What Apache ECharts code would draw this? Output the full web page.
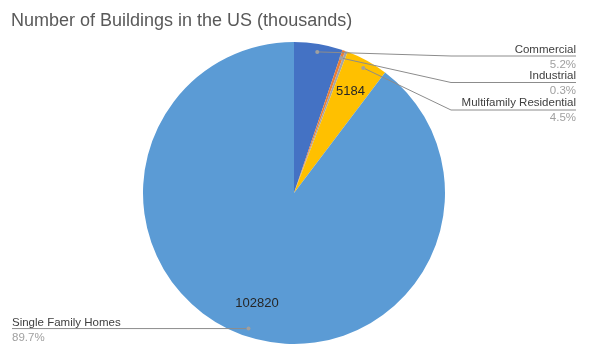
<!DOCTYPE html>
<html>
<head>
<meta charset="utf-8">
<script src="https://cdn.jsdelivr.net/npm/echarts@6/dist/echarts.min.js"></script>
<style>
html,body{margin:0;padding:0;background:#fff;}
#main{width:592px;height:358px;}
</style>
</head>
<body>
<div id="main"></div>
<script>
// ---- data ----
const categories = ['Commercial', 'Industrial', 'Other', 'Multifamily Residential', 'Single Family Homes'];
const values = [5960, 350, 320, 5184, 102820];
const colors = ['#4472C4', '#ED7D31', '#A5A5A5', '#FFC000', '#5B9BD5'];
const showCategoryLabel = [true, true, false, true, true];
const showValueLabel = [false, false, false, true, true];

// ---- layout ----
const CX = 294, CY = 193, R = 151, DOT_R = 143;
const FONT = 'Liberation Sans';
// label anchor settings per category (layout only)
const labelPlace = [
  { x: 576, top: 42, align: 'right', lineY: 56, elbowX: 451, endX: 576 },
  { x: 576, top: 68, align: 'right', lineY: 82.5, elbowX: 451, endX: 576 },
  null,
  { x: 576, top: 95.5, align: 'right', lineY: 110, elbowX: 451, endX: 576 },
  { x: 12, top: 315, align: 'left', lineY: null, elbowX: null, endX: 12 }
];

const chart = echarts.init(document.getElementById('main'), null, { renderer: 'canvas' });

function dotPos(i) {
  const data = chart.getModel().getSeriesByIndex(0).getData();
  const l = data.getItemLayout(i);
  const mid = (l.startAngle + l.endAngle) / 2;
  return [l.cx + DOT_R * Math.cos(mid), l.cy + DOT_R * Math.sin(mid)];
}

const outerData = categories.map((name, i) => ({
  name: name,
  value: values[i],
  itemStyle: { color: colors[i] },
  label: { show: showCategoryLabel[i] }
}));

const innerData = categories.map((name, i) => ({
  name: name,
  value: values[i],
  label: { show: showValueLabel[i] }
}));

const option = {
  animation: false,
  title: {
    text: 'Number of Buildings in the US (thousands)',
    left: 6,
    top: 7,
    textStyle: { fontFamily: FONT, fontSize: 18, fontWeight: 'normal', color: '#595959' }
  },
  series: [
    {
      type: 'pie',
      center: [CX, CY],
      radius: R,
      startAngle: 90,
      clockwise: true,
      avoidLabelOverlap: false,
      percentPrecision: 1,
      itemStyle: { borderWidth: 0 },
      emphasis: { disabled: true },
      label: {
        position: 'outside',
        formatter: '{n|{b}}\n{p|{d}%}',
        rich: {
          n: { fontFamily: FONT, fontSize: 11.5, color: '#404040', lineHeight: 15 },
          p: { fontFamily: FONT, fontSize: 11.5, color: '#a0a0a0', lineHeight: 15 }
        }
      },
      labelLine: { show: false },
      labelLayout: function (params) {
        const p = labelPlace[params.dataIndex];
        if (!p) return {};
        return { x: p.x, y: p.top, align: p.align, verticalAlign: 'top' };
      },
      data: outerData
    },
    {
      type: 'pie',
      center: [CX, CY],
      radius: [76, R],
      startAngle: 90,
      clockwise: true,
      silent: true,
      z: 5,
      itemStyle: { color: 'rgba(0,0,0,0)', borderWidth: 0 },
      emphasis: { disabled: true },
      label: {
        position: 'inside',
        formatter: '{c}',
        fontFamily: FONT,
        fontSize: 13,
        color: '#262626'
      },
      labelLine: { show: false },
      data: innerData
    }
  ]
};

chart.setOption(option);

// leader lines and dots, anchored on the library's own sector layout
const guides = [];
categories.forEach((c, i) => {
  if (!showCategoryLabel[i]) return;
  const d = dotPos(i);
  const p = labelPlace[i];
  const pts = p.lineY === null
    ? [d, [p.endX, d[1]]]
    : [d, [p.elbowX, p.lineY], [p.endX, p.lineY]];
  guides.push({
    type: 'polyline',
    silent: true,
    z: 99,
    shape: { points: pts },
    style: { stroke: '#8c8c8c', lineWidth: 1, fill: null }
  });
  guides.push({
    type: 'circle',
    silent: true,
    z: 100,
    shape: { cx: d[0], cy: d[1], r: 2 },
    style: { fill: '#a0a0a0' }
  });
});
chart.setOption({ graphic: guides });
</script>
</body>
</html>
